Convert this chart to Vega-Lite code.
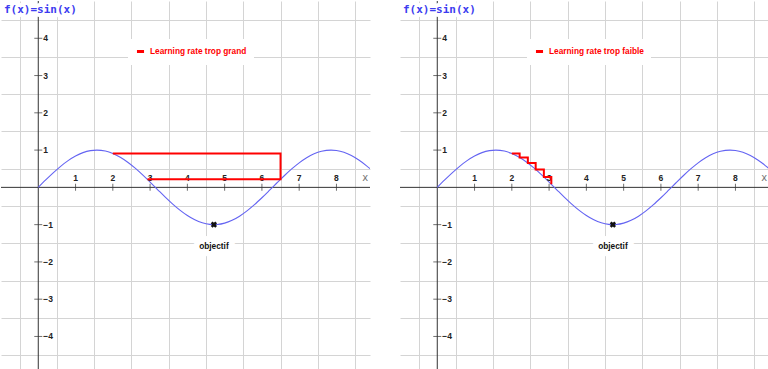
{
  "$schema": "https://vega.github.io/schema/vega-lite/v6.json",
  "padding": 0,
  "spacing": 28,
  "background": "white",
  "config": {
    "view": {"stroke": null},
    "axis": {"labels": false, "ticks": false, "domain": false, "grid": true, "gridColor": "#d4d4d4", "gridWidth": 1}
  },
  "datasets": {
    "one": [{"k": 1}],
    "sine": [
      {"x": 0, "y": 0}, {"x": 0.2, "y": 0.199}, {"x": 0.4, "y": 0.389}, {"x": 0.6, "y": 0.565}, {"x": 0.8, "y": 0.717},
      {"x": 1.0, "y": 0.841}, {"x": 1.2, "y": 0.932}, {"x": 1.4, "y": 0.985}, {"x": 1.571, "y": 1.0}, {"x": 1.8, "y": 0.974},
      {"x": 2.0, "y": 0.909}, {"x": 2.2, "y": 0.808}, {"x": 2.4, "y": 0.675}, {"x": 2.6, "y": 0.516}, {"x": 2.8, "y": 0.335},
      {"x": 3.0, "y": 0.141}, {"x": 3.2, "y": -0.058}, {"x": 3.4, "y": -0.256}, {"x": 3.6, "y": -0.443}, {"x": 3.8, "y": -0.612},
      {"x": 4.0, "y": -0.757}, {"x": 4.2, "y": -0.872}, {"x": 4.4, "y": -0.952}, {"x": 4.6, "y": -0.994}, {"x": 4.712, "y": -1.0},
      {"x": 4.8, "y": -0.996}, {"x": 5.0, "y": -0.959}, {"x": 5.2, "y": -0.883}, {"x": 5.4, "y": -0.773}, {"x": 5.6, "y": -0.631},
      {"x": 5.8, "y": -0.465}, {"x": 6.0, "y": -0.279}, {"x": 6.2, "y": -0.083}, {"x": 6.4, "y": 0.117}, {"x": 6.6, "y": 0.312},
      {"x": 6.8, "y": 0.494}, {"x": 7.0, "y": 0.657}, {"x": 7.2, "y": 0.794}, {"x": 7.4, "y": 0.899}, {"x": 7.6, "y": 0.968},
      {"x": 7.854, "y": 1.0}, {"x": 8.0, "y": 0.989}, {"x": 8.2, "y": 0.941}, {"x": 8.4, "y": 0.855}, {"x": 8.6, "y": 0.734},
      {"x": 8.8, "y": 0.585}, {"x": 8.9, "y": 0.501}
    ],
    "xt": [
      {"v": 1, "lab": "1"}, {"v": 2, "lab": "2"}, {"v": 3, "lab": "3"}, {"v": 4, "lab": "4"},
      {"v": 5, "lab": "5"}, {"v": 6, "lab": "6"}, {"v": 7, "lab": "7"}, {"v": 8, "lab": "8"}
    ],
    "yt": [
      {"v": 4, "lab": "4"}, {"v": 3, "lab": "3"}, {"v": 2, "lab": "2"}, {"v": 1, "lab": "1"},
      {"v": -1, "lab": "−1"}, {"v": -2, "lab": "−2"}, {"v": -3, "lab": "−3"}, {"v": -4, "lab": "−4"}
    ],
    "big": [
      {"step": 1, "x": 2.0, "y": 0.909, "series": "Learning rate trop grand"},
      {"step": 2, "x": 6.5, "y": 0.909, "series": "Learning rate trop grand"},
      {"step": 3, "x": 6.5, "y": 0.215, "series": "Learning rate trop grand"},
      {"step": 4, "x": 2.93, "y": 0.215, "series": "Learning rate trop grand"}
    ],
    "small": [
      {"step": 1, "x": 2.0, "y": 0.909, "series": "Learning rate trop faible"},
      {"step": 2, "x": 2.21, "y": 0.909, "series": "Learning rate trop faible"},
      {"step": 3, "x": 2.21, "y": 0.802, "series": "Learning rate trop faible"},
      {"step": 4, "x": 2.43, "y": 0.802, "series": "Learning rate trop faible"},
      {"step": 5, "x": 2.43, "y": 0.653, "series": "Learning rate trop faible"},
      {"step": 6, "x": 2.64, "y": 0.653, "series": "Learning rate trop faible"},
      {"step": 7, "x": 2.64, "y": 0.479, "series": "Learning rate trop faible"},
      {"step": 8, "x": 2.86, "y": 0.479, "series": "Learning rate trop faible"},
      {"step": 9, "x": 2.86, "y": 0.276, "series": "Learning rate trop faible"},
      {"step": 10, "x": 3.06, "y": 0.276, "series": "Learning rate trop faible"},
      {"step": 11, "x": 3.06, "y": 0.081, "series": "Learning rate trop faible"}
    ],
    "target": [{"x": 4.712, "y": -1, "label": "objectif"}],
    "head": [{"label": "f(x)=sin(x)"}],
    "xname": [{"x": 8.77, "label": "x"}]
  },
  "hconcat": [
    {
      "width": 369,
      "height": 369,
      "layer": [
        {
          "data": {"name": "one"},
          "mark": {"type": "rule", "color": "#333333", "strokeWidth": 1},
          "encoding": {"y": {"datum": 0, "type": "quantitative", "title": null}}
        },
        {
          "data": {"name": "one"},
          "mark": {"type": "rule", "color": "#333333", "strokeWidth": 1},
          "encoding": {"x": {"datum": 0, "type": "quantitative", "title": null}}
        },
        {
          "data": {"name": "sine"},
          "mark": {"type": "line", "color": "#6464f2", "strokeWidth": 1.1, "interpolate": "monotone", "clip": true},
          "encoding": {
            "x": {"field": "x", "type": "quantitative", "title": null,
                  "scale": {"domain": [-1, 8.9], "nice": false, "zero": false},
                  "axis": {"values": [-0.5, 0, 0.5, 1, 1.5, 2, 2.5, 3, 3.5, 4, 4.5, 5, 5.5, 6, 6.5, 7, 7.5, 8, 8.5]}},
            "y": {"field": "y", "type": "quantitative", "title": null,
                  "scale": {"domain": [-4.9, 5], "nice": false, "zero": false},
                  "axis": {"values": [-4.5, -4, -3.5, -3, -2.5, -2, -1.5, -1, -0.5, 0, 0.5, 1, 1.5, 2, 2.5, 3, 3.5, 4, 4.5]}}
          }
        },
        {
          "data": {"name": "xt"},
          "mark": {"type": "tick", "orient": "vertical", "size": 7, "thickness": 1, "color": "#333333"},
          "encoding": {"x": {"field": "v", "type": "quantitative", "title": null}, "y": {"datum": 0, "type": "quantitative", "title": null}}
        },
        {
          "data": {"name": "yt"},
          "mark": {"type": "tick", "orient": "horizontal", "size": 8, "thickness": 1, "color": "#333333"},
          "encoding": {"y": {"field": "v", "type": "quantitative", "title": null}, "x": {"datum": 0, "type": "quantitative", "title": null}}
        },
        {
          "data": {"name": "xt"},
          "mark": {"type": "text", "dy": -9, "fontSize": 8.5, "fontWeight": "bold", "font": "Liberation Sans", "color": "#222222"},
          "encoding": {"x": {"field": "v", "type": "quantitative", "title": null}, "y": {"datum": 0, "type": "quantitative", "title": null}, "text": {"field": "lab"}}
        },
        {
          "data": {"name": "yt"},
          "mark": {"type": "text", "dx": 5, "align": "left", "baseline": "middle", "fontSize": 8.5, "fontWeight": "bold", "font": "Liberation Sans", "color": "#222222"},
          "encoding": {"y": {"field": "v", "type": "quantitative", "title": null}, "x": {"datum": 0, "type": "quantitative", "title": null}, "text": {"field": "lab"}}
        },
        {
          "data": {"name": "xname"},
          "mark": {"type": "text", "dy": -9, "fontSize": 10, "font": "DejaVu Sans", "color": "#777777"},
          "encoding": {"x": {"field": "x", "type": "quantitative", "title": null}, "y": {"datum": 0, "type": "quantitative", "title": null}, "text": {"field": "label"}}
        },
        {
          "data": {"name": "big"},
          "mark": {"type": "line", "strokeWidth": 2},
          "encoding": {
            "x": {"field": "x", "type": "quantitative", "title": null},
            "y": {"field": "y", "type": "quantitative", "title": null},
            "order": {"field": "step"},
            "color": {"field": "series", "type": "nominal", "scale": {"range": ["#ff0000"]},
                      "legend": {"orient": "none", "legendX": 127, "legendY": 38, "title": null, "fillColor": "white", "padding": 7,
                                 "symbolType": "stroke", "symbolSize": 50, "symbolStrokeWidth": 3, "labelColor": "#ff0000",
                                 "labelFontWeight": "bold", "labelFontSize": 8.3, "labelFont": "Liberation Sans", "labelOffset": 4}}
          }
        },
        {
          "data": {"name": "target"},
          "mark": {"type": "point", "shape": "cross", "angle": 45, "filled": true, "size": 40, "color": "#111111", "opacity": 1},
          "encoding": {"x": {"field": "x", "type": "quantitative", "title": null}, "y": {"field": "y", "type": "quantitative", "title": null}}
        },
        {
          "data": {"name": "target"},
          "mark": {"type": "text", "dy": 22, "fontSize": 8.3, "fontWeight": "bold", "font": "Liberation Sans", "stroke": "white", "strokeWidth": 12, "strokeJoin": "round", "color": "white"},
          "encoding": {"x": {"field": "x", "type": "quantitative", "title": null}, "y": {"field": "y", "type": "quantitative", "title": null}, "text": {"field": "label"}}
        },
        {
          "data": {"name": "target"},
          "mark": {"type": "text", "dy": 22, "fontSize": 8.3, "fontWeight": "bold", "font": "Liberation Sans", "color": "#111111"},
          "encoding": {"x": {"field": "x", "type": "quantitative", "title": null}, "y": {"field": "y", "type": "quantitative", "title": null}, "text": {"field": "label"}}
        },
        {
          "data": {"name": "head"},
          "mark": {"type": "text", "align": "left", "baseline": "top", "dx": 3, "dy": 3, "fontSize": 11, "fontWeight": "bold", "font": "DejaVu Sans Mono", "stroke": "white", "strokeWidth": 8, "strokeJoin": "round", "color": "white"},
          "encoding": {"x": {"datum": -1, "type": "quantitative", "title": null}, "y": {"datum": 5, "type": "quantitative", "title": null}, "text": {"field": "label"}}
        },
        {
          "data": {"name": "head"},
          "mark": {"type": "text", "align": "left", "baseline": "top", "dx": 3, "dy": 3, "fontSize": 11, "fontWeight": "bold", "font": "DejaVu Sans Mono", "color": "#3c3cf0"},
          "encoding": {"x": {"datum": -1, "type": "quantitative", "title": null}, "y": {"datum": 5, "type": "quantitative", "title": null}, "text": {"field": "label"}}
        }
      ]
    },
    {
      "width": 369,
      "height": 369,
      "layer": [
        {
          "data": {"name": "one"},
          "mark": {"type": "rule", "color": "#333333", "strokeWidth": 1},
          "encoding": {"y": {"datum": 0, "type": "quantitative", "title": null}}
        },
        {
          "data": {"name": "one"},
          "mark": {"type": "rule", "color": "#333333", "strokeWidth": 1},
          "encoding": {"x": {"datum": 0, "type": "quantitative", "title": null}}
        },
        {
          "data": {"name": "sine"},
          "mark": {"type": "line", "color": "#6464f2", "strokeWidth": 1.1, "interpolate": "monotone", "clip": true},
          "encoding": {
            "x": {"field": "x", "type": "quantitative", "title": null,
                  "scale": {"domain": [-1, 8.9], "nice": false, "zero": false},
                  "axis": {"values": [-0.5, 0, 0.5, 1, 1.5, 2, 2.5, 3, 3.5, 4, 4.5, 5, 5.5, 6, 6.5, 7, 7.5, 8, 8.5]}},
            "y": {"field": "y", "type": "quantitative", "title": null,
                  "scale": {"domain": [-4.9, 5], "nice": false, "zero": false},
                  "axis": {"values": [-4.5, -4, -3.5, -3, -2.5, -2, -1.5, -1, -0.5, 0, 0.5, 1, 1.5, 2, 2.5, 3, 3.5, 4, 4.5]}}
          }
        },
        {
          "data": {"name": "xt"},
          "mark": {"type": "tick", "orient": "vertical", "size": 7, "thickness": 1, "color": "#333333"},
          "encoding": {"x": {"field": "v", "type": "quantitative", "title": null}, "y": {"datum": 0, "type": "quantitative", "title": null}}
        },
        {
          "data": {"name": "yt"},
          "mark": {"type": "tick", "orient": "horizontal", "size": 8, "thickness": 1, "color": "#333333"},
          "encoding": {"y": {"field": "v", "type": "quantitative", "title": null}, "x": {"datum": 0, "type": "quantitative", "title": null}}
        },
        {
          "data": {"name": "xt"},
          "mark": {"type": "text", "dy": -9, "fontSize": 8.5, "fontWeight": "bold", "font": "Liberation Sans", "color": "#222222"},
          "encoding": {"x": {"field": "v", "type": "quantitative", "title": null}, "y": {"datum": 0, "type": "quantitative", "title": null}, "text": {"field": "lab"}}
        },
        {
          "data": {"name": "yt"},
          "mark": {"type": "text", "dx": 5, "align": "left", "baseline": "middle", "fontSize": 8.5, "fontWeight": "bold", "font": "Liberation Sans", "color": "#222222"},
          "encoding": {"y": {"field": "v", "type": "quantitative", "title": null}, "x": {"datum": 0, "type": "quantitative", "title": null}, "text": {"field": "lab"}}
        },
        {
          "data": {"name": "xname"},
          "mark": {"type": "text", "dy": -9, "fontSize": 10, "font": "DejaVu Sans", "color": "#777777"},
          "encoding": {"x": {"field": "x", "type": "quantitative", "title": null}, "y": {"datum": 0, "type": "quantitative", "title": null}, "text": {"field": "label"}}
        },
        {
          "data": {"name": "small"},
          "mark": {"type": "line", "strokeWidth": 2},
          "encoding": {
            "x": {"field": "x", "type": "quantitative", "title": null},
            "y": {"field": "y", "type": "quantitative", "title": null},
            "order": {"field": "step"},
            "color": {"field": "series", "type": "nominal", "scale": {"range": ["#ff0000"]},
                      "legend": {"orient": "none", "legendX": 127, "legendY": 38, "title": null, "fillColor": "white", "padding": 7,
                                 "symbolType": "stroke", "symbolSize": 50, "symbolStrokeWidth": 3, "labelColor": "#ff0000",
                                 "labelFontWeight": "bold", "labelFontSize": 8.3, "labelFont": "Liberation Sans", "labelOffset": 4}}
          }
        },
        {
          "data": {"name": "target"},
          "mark": {"type": "point", "shape": "cross", "angle": 45, "filled": true, "size": 40, "color": "#111111", "opacity": 1},
          "encoding": {"x": {"field": "x", "type": "quantitative", "title": null}, "y": {"field": "y", "type": "quantitative", "title": null}}
        },
        {
          "data": {"name": "target"},
          "mark": {"type": "text", "dy": 22, "fontSize": 8.3, "fontWeight": "bold", "font": "Liberation Sans", "stroke": "white", "strokeWidth": 12, "strokeJoin": "round", "color": "white"},
          "encoding": {"x": {"field": "x", "type": "quantitative", "title": null}, "y": {"field": "y", "type": "quantitative", "title": null}, "text": {"field": "label"}}
        },
        {
          "data": {"name": "target"},
          "mark": {"type": "text", "dy": 22, "fontSize": 8.3, "fontWeight": "bold", "font": "Liberation Sans", "color": "#111111"},
          "encoding": {"x": {"field": "x", "type": "quantitative", "title": null}, "y": {"field": "y", "type": "quantitative", "title": null}, "text": {"field": "label"}}
        },
        {
          "data": {"name": "head"},
          "mark": {"type": "text", "align": "left", "baseline": "top", "dx": 3, "dy": 3, "fontSize": 11, "fontWeight": "bold", "font": "DejaVu Sans Mono", "stroke": "white", "strokeWidth": 8, "strokeJoin": "round", "color": "white"},
          "encoding": {"x": {"datum": -1, "type": "quantitative", "title": null}, "y": {"datum": 5, "type": "quantitative", "title": null}, "text": {"field": "label"}}
        },
        {
          "data": {"name": "head"},
          "mark": {"type": "text", "align": "left", "baseline": "top", "dx": 3, "dy": 3, "fontSize": 11, "fontWeight": "bold", "font": "DejaVu Sans Mono", "color": "#3c3cf0"},
          "encoding": {"x": {"datum": -1, "type": "quantitative", "title": null}, "y": {"datum": 5, "type": "quantitative", "title": null}, "text": {"field": "label"}}
        }
      ]
    }
  ],
  "resolve": {"scale": {"color": "independent"}, "legend": {"color": "independent"}}
}
